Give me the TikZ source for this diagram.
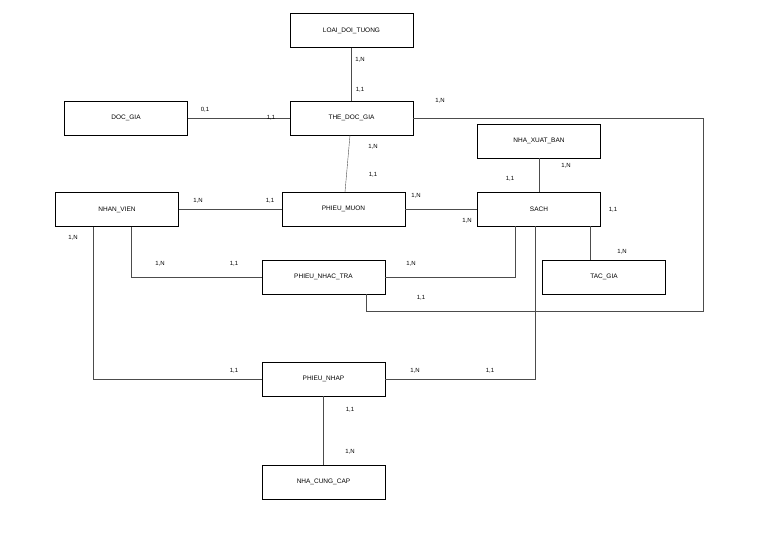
\documentclass[tikz,border=0pt]{standalone}
\usepackage{fontspec}
\setmainfont{Liberation Sans}
\begin{document}
\begin{tikzpicture}[x=1pt,y=-1pt,
  ent/.style={draw, thin, minimum width=123pt, minimum height=34pt, inner sep=0pt, font=\fontsize{6.5}{7}\selectfont},
  lnk/.style={draw=black!70, thin},
  lbl/.style={font=\fontsize{6}{7}\selectfont, inner sep=0pt}]
\useasboundingbox (0,0) rectangle (768,545);
\node[ent] (loai) at (351.5,30.5) {LOAI\_DOI\_TUONG};
\node[ent] (the)  at (351.5,118) {THE\_DOC\_GIA};
\node[ent] (doc)  at (126,118) {DOC\_GIA};
\node[ent] (nxb)  at (539,141) {NHA\_XUAT\_BAN};
\node[ent] (nv)   at (117,209.5) {NHAN\_VIEN};
\node[ent] (pm)   at (343.5,209) {PHIEU\_MUON};
\node[ent] (sach) at (539,209) {SACH};
\node[ent] (pnt)  at (323.5,277) {PHIEU\_NHAC\_TRA};
\node[ent] (tg)   at (604,277) {TAC\_GIA};
\node[ent] (pn)   at (323.5,379) {PHIEU\_NHAP};
\node[ent] (ncc)  at (323.5,482) {NHA\_CUNG\_CAP};
\coordinate (c1) at (703,118);
\coordinate (c2) at (703,311);
\coordinate (c3) at (366,311);
\coordinate (c4) at (131,277);
\coordinate (c5) at (515,277);
\coordinate (c6) at (93,379);
\coordinate (c7) at (535,379);
\draw[lnk] (loai) -- (the);
\draw[lnk] (doc.east) -- (the.west);
\draw[lnk] (the.east) -- (c1) -- (c2) -- (c3) -- (c3 |- pnt.south);
\draw[lnk] (the) -- (pm);
\draw[lnk] (nv.east) -- (pm.west |- nv.east);
\draw[lnk] (pm.east) -- (sach.west);
\draw[lnk] (nxb) -- (sach);
\draw[lnk] (tg.north -| 590,0) -- (sach.south -| 590,0);
\draw[lnk] (c4 |- nv.south) -- (c4) -- (pnt.west);
\draw[lnk] (pnt.east) -- (c5) -- (c5 |- sach.south);
\draw[lnk] (c6 |- nv.south) -- (c6) -- (pn.west);
\draw[lnk] (pn.east) -- (c7) -- (c7 |- sach.south);
\draw[lnk] (pn) -- (ncc);
\node[lbl] at (360,60) {1,N};
\node[lbl] at (360,90) {1,1};
\node[lbl] at (205,110) {0,1};
\node[lbl] at (271,118) {1,1};
\node[lbl] at (440,101) {1,N};
\node[lbl] at (421,298) {1,1};
\node[lbl] at (373,147) {1,N};
\node[lbl] at (373,175) {1,1};
\node[lbl] at (198,201) {1,N};
\node[lbl] at (270,201) {1,1};
\node[lbl] at (416,196) {1,N};
\node[lbl] at (467,221) {1,N};
\node[lbl] at (566,166) {1,N};
\node[lbl] at (510,179) {1,1};
\node[lbl] at (613,210) {1,1};
\node[lbl] at (622,252) {1,N};
\node[lbl] at (160,264) {1,N};
\node[lbl] at (234,264) {1,1};
\node[lbl] at (411,264) {1,N};
\node[lbl] at (73,238) {1,N};
\node[lbl] at (234,371) {1,1};
\node[lbl] at (415,371) {1,N};
\node[lbl] at (490,371) {1,1};
\node[lbl] at (350,410) {1,1};
\node[lbl] at (350,452) {1,N};
\end{tikzpicture}
\end{document}
